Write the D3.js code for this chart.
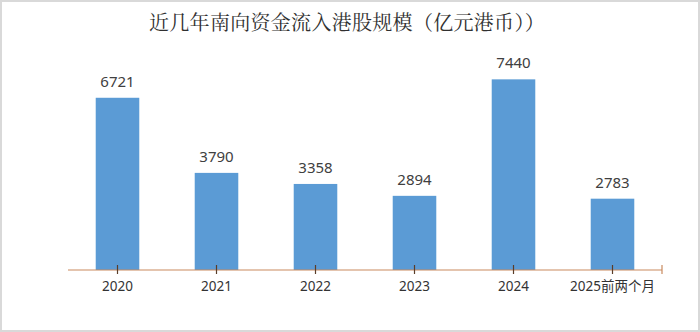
<!DOCTYPE html>
<html>
<head>
<meta charset="utf-8">
<script src="https://cdn.jsdelivr.net/npm/d3@7"></script>
<style>
  html, body { margin: 0; padding: 0; background: #fff; }
  svg { display: block; }
</style>
</head>
<body>
<svg id="chart" width="700" height="332"></svg>
<script>
// Southbound inflows into Hong Kong stocks, 100 million HKD
const categories = ["2020", "2021", "2022", "2023", "2024", "2025前两个月"];
const inflows = [6721, 3790, 3358, 2894, 7440, 2783];
const titleText = "近几年南向资金流入港股规模（亿元港币））";

const W = 700, H = 332;
const baseY = 270;
const svg = d3.select("#chart");

// light frame around the whole figure
svg.append("rect")
  .attr("x", 1).attr("y", 1)
  .attr("width", W - 2).attr("height", H - 2)
  .attr("fill", "#fff")
  .attr("stroke", "#d9d9d9").attr("stroke-width", 2);

const x = d3.scaleBand()
  .domain(categories)
  .range([68, 662])
  .paddingInner(0.56)
  .paddingOuter(0.28);

const y = d3.scaleLinear()
  .domain([0, 8000])
  .range([baseY, 65]);

// title
svg.append("text")
  .attr("x", 347).attr("y", 30)
  .attr("text-anchor", "middle")
  .attr("font-family", "'Noto Serif CJK SC', 'Noto Sans CJK SC', serif")
  .attr("font-size", 20)
  .attr("letter-spacing", 0.3)
  .attr("fill", "#303030")
  .text(titleText);

// bars
svg.append("g").selectAll("rect")
  .data(inflows)
  .join("rect")
  .attr("x", (d, i) => x(categories[i]))
  .attr("y", d => y(d))
  .attr("width", x.bandwidth())
  .attr("height", d => baseY - y(d))
  .attr("fill", "#5b9bd5");

// value labels
svg.append("g").selectAll("text")
  .data(inflows)
  .join("text")
  .attr("x", (d, i) => x(categories[i]) + x.bandwidth() / 2)
  .attr("y", d => y(d) - 11)
  .attr("text-anchor", "middle")
  .attr("font-family", "'Noto Sans', 'Noto Sans CJK SC', sans-serif")
  .attr("font-size", 15)
  .attr("fill", "#404040")
  .text(d => d);

// category axis
const axis = svg.append("g");
axis.append("line")
  .attr("x1", x.range()[0]).attr("x2", x.range()[1])
  .attr("y1", baseY).attr("y2", baseY)
  .attr("stroke", "#c98a5e").attr("stroke-width", 1.2);

const tickXs = categories.map(c => x(c) + x.bandwidth() / 2).concat([x.range()[1]]);
axis.selectAll("line.tick")
  .data(tickXs)
  .join("line")
  .attr("class", "tick")
  .attr("x1", d => d).attr("x2", d => d)
  .attr("y1", baseY - 5).attr("y2", baseY + 4)
  .attr("stroke", (d, i) => i < categories.length ? "#5a3d28" : "#c98a5e")
  .attr("stroke-width", 1.2);

axis.selectAll("text")
  .data(categories)
  .join("text")
  .attr("x", d => x(d) + x.bandwidth() / 2)
  .attr("y", 291)
  .attr("text-anchor", "middle")
  .attr("font-family", "'Noto Sans', 'Noto Sans CJK SC', sans-serif")
  .attr("font-size", 13.5)
  .attr("fill", "#333333")
  .text(d => d);
</script>
</body>
</html>
